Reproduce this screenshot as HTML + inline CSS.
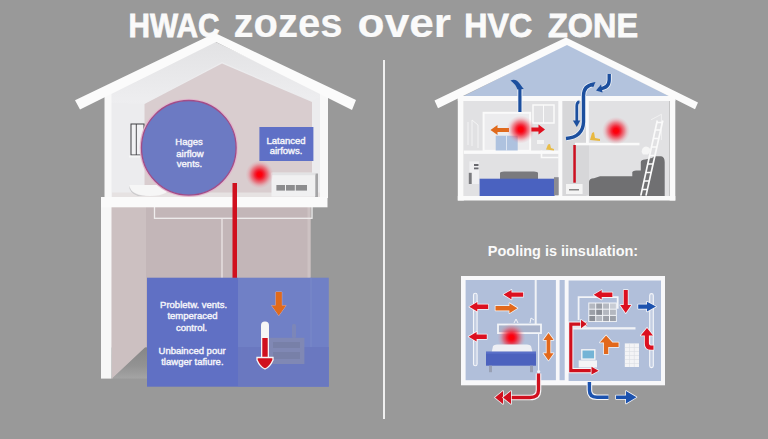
<!DOCTYPE html>
<html><head><meta charset="utf-8">
<style>
html,body{margin:0;padding:0;background:#999999;}
body{width:768px;height:439px;overflow:hidden;position:relative;font-family:"Liberation Sans",sans-serif;}
svg{position:absolute;left:0;top:0;}
.ar{stroke:#f6f6f8;stroke-width:1.5;paint-order:stroke;stroke-linejoin:round;}
</style></head>
<body>
<svg width="768" height="439" viewBox="0 0 768 439" font-family="Liberation Sans, sans-serif">
<defs>
  <radialGradient id="glow">
    <stop offset="0" stop-color="#ff0000"/>
    <stop offset="0.18" stop-color="#fd0010"/>
    <stop offset="0.35" stop-color="#f41426" stop-opacity="0.88"/>
    <stop offset="0.6" stop-color="#f03444" stop-opacity="0.55"/>
    <stop offset="0.82" stop-color="#f06070" stop-opacity="0.2"/>
    <stop offset="1" stop-color="#f08090" stop-opacity="0"/>
  </radialGradient>
  <linearGradient id="floorG" x1="0" y1="0" x2="0" y2="1">
    <stop offset="0" stop-color="#868686"/>
    <stop offset="0.6" stop-color="#939393"/>
    <stop offset="1" stop-color="#a4a4a4"/>
  </linearGradient>
  <linearGradient id="ceilL" x1="0" y1="0" x2="0" y2="1">
    <stop offset="0" stop-color="#e2e2e4"/>
    <stop offset="1" stop-color="#eeeef0"/>
  </linearGradient>
</defs>
<rect width="768" height="439" fill="#999999"/>

<!-- ============ LEFT HOUSE ============ -->
<!-- lower section -->
<polygon points="111,207 310.5,207 310.5,347.5 111,347.5" fill="#c3b6b8"/>
<polygon points="111,207 146,207 146,347 112,379" fill="#ccc0c1"/>
<polygon points="307.5,207 310.5,207 310.5,347 307.5,347" fill="#cdc2c3"/>
<polygon points="145,347.5 148,347.5 148,378.5 112,378.5" fill="url(#floorG)"/>
<rect x="101" y="207" width="10.5" height="171.6" fill="#f7f7f7"/>
<!-- ceiling fixture -->
<rect x="154.5" y="206" width="157.5" height="12.3" fill="none" stroke="#f0eeee" stroke-width="1.3"/>
<line x1="222" y1="218" x2="222" y2="278" stroke="#eeeaea" stroke-width="1.2"/>

<!-- upper section interior -->
<polygon points="111,92 215,42 320,92 320,197 111,197" fill="#ececee"/>
<polygon points="144.5,193 144.5,104 222,63.5 312,102 312,193" fill="#d9cdcf"/>
<polygon points="111,92 215,42 320,92 320,97 312,101 222,62 144.5,103.5 111,103" fill="url(#ceilL)"/>
<rect x="112" y="192.5" width="208" height="5" fill="#e6e2e2"/>
<!-- walls -->
<rect x="104.5" y="90" width="7" height="108" fill="#f8f8f8"/>
<rect x="320" y="92" width="8" height="106" fill="#f8f8f8"/>
<!-- floor slab -->
<rect x="101" y="197" width="226.5" height="10.3" fill="#fafafa"/>
<!-- roof band -->
<polygon points="75,100.3 215,33 356,100 352,110 216,42 80,109.5" fill="#fbfbfb"/>

<!-- window -->
<rect x="131" y="124" width="13" height="31" fill="#f2f2f4" stroke="#3e3e42" stroke-width="1"/>
<line x1="136.3" y1="124" x2="136.3" y2="155" stroke="#3e3e42" stroke-width="0.9"/>
<rect x="129" y="155.5" width="16" height="2" fill="#f6f6f6"/>
<!-- sink bowl -->
<path d="M129,185 L172,185 Q170,195.5 150,196 Q131,195.5 129,185 Z" fill="#f6f6f6"/>
<path d="M129,185 Q131,195.5 146,196 L138,196 Q129,193 129,185 Z" fill="#c9c9cb"/>

<!-- circle -->
<circle cx="188.8" cy="147.8" r="48.3" fill="none" stroke="#e2b6cc" stroke-width="1.6"/>
<circle cx="188.8" cy="147.8" r="47.3" fill="#6c7ac3" stroke="#a24c88" stroke-width="1.3"/>
<g fill="#f4f4fa" stroke="#f4f4fa" stroke-width="0.4" font-size="9.5" text-anchor="middle">
<text x="189" y="145">Hages</text>
<text x="190" y="156.9">airflow</text>
<text x="189.5" y="167.3">vents.</text>
</g>

<!-- latanced box -->
<rect x="259.4" y="127" width="54" height="34" fill="#5f70c6"/>
<g fill="#f4f4fa" stroke="#f4f4fa" stroke-width="0.4" font-size="9.5" text-anchor="middle">
<text x="286" y="143.7">Latanced</text>
<text x="286" y="154.4">airfows.</text>
</g>

<!-- AC unit -->
<rect x="315" y="173.5" width="3" height="23.5" fill="#a4a4a6"/>
<rect x="271.5" y="172.7" width="43.8" height="23.8" fill="#f0f0f1"/>
<rect x="271.5" y="172.7" width="43.8" height="2.5" fill="#e2e2e4"/>
<rect x="276.4" y="185" width="8.6" height="5.6" fill="#8c8c8e"/>
<rect x="286" y="185" width="8.8" height="5.6" fill="#8c8c8e"/>
<rect x="295.8" y="185" width="11.2" height="5.6" fill="#8c8c8e"/>

<!-- red glow -->
<circle cx="259.5" cy="174.5" r="14" fill="url(#glow)"/>

<!-- red pipe -->
<rect x="232.5" y="183" width="4.5" height="95" fill="#d0101e"/>

<!-- big blue box -->
<rect x="147" y="277.7" width="91" height="109" fill="#6070c4"/>
<rect x="238" y="277.7" width="90.8" height="109" fill="#7080c6"/>
<rect x="238" y="347" width="90.8" height="39.7" fill="#6a78c0"/>
<line x1="311" y1="277.7" x2="311" y2="347" stroke="#7888c8" stroke-width="1.2"/>
<rect x="269" y="337.8" width="35.4" height="26.2" fill="#8088b4"/>
<rect x="273" y="342" width="27" height="6" fill="#7880a8"/>
<rect x="273" y="352" width="27" height="7" fill="#7880a8"/>
<rect x="292" y="324" width="4" height="14" rx="1.5" fill="#7c86b8"/>
<g fill="#f4f4fa" stroke="#f4f4fa" stroke-width="0.4" font-size="9.5" text-anchor="middle">
<text x="193.6" y="308.3">Probletw. vents.</text>
<text x="192.5" y="318.9">temperaced</text>
<text x="191.6" y="331.3">control.</text>
<text x="192.1" y="353.9">Unbainced pour</text>
<text x="192.4" y="365">tlawger tafiure.</text>
</g>
<!-- thermometer -->
<rect x="261" y="321.5" width="8" height="40" rx="4" fill="#f6f6f6"/>
<rect x="262.3" y="338" width="5.4" height="22" fill="#d0101e"/>
<path d="M257,357.5 L273,357.5 L273,360 Q270,367 265,369 Q260,367 257,360 Z" fill="#d0101e" stroke="#f6f6f6" stroke-width="1.3"/>
<!-- orange arrow -->
<path class="ar" d="M275.8,292 L281.8,292 L281.8,305.5 L286,305.5 L278.8,315.6 L271.6,305.5 L275.8,305.5 Z" fill="#e06a1c" style="stroke:#c8a8b8;stroke-width:1"/>

<!-- divider -->
<rect x="383" y="60" width="2" height="359" fill="#f0f0f0"/>

<!-- ============ RIGHT TOP HOUSE ============ -->
<polygon points="463.8,96 567,44 669,96" fill="#b3c3dd"/>
<rect x="463.8" y="101" width="205.5" height="95" fill="#e1e1e3"/>
<rect x="457.8" y="96" width="6" height="104.5" fill="#fafafa"/>
<rect x="669.7" y="96" width="5.6" height="104.5" fill="#fafafa"/>
<rect x="457.8" y="96" width="217.5" height="5" fill="#fafafa"/>
<rect x="457.8" y="196" width="217.5" height="4.5" fill="#fafafa"/>
<rect x="558.3" y="96" width="4.2" height="104" fill="#fafafa"/>
<polygon points="434.5,100.5 566,37.4 698,102.5 695,109.2 567,45 438,108.2" fill="#fbfbfb"/>

<!-- left upper room -->
<rect x="463.8" y="150.5" width="95" height="3.4" fill="#fafafa"/>
<path d="M541.5,150.5 L541.5,157.5 L558.7,157.5" fill="none" stroke="#fafafa" stroke-width="1.6"/>
<rect x="483.6" y="112.8" width="46.5" height="38" fill="#ececee" stroke="#fafafa" stroke-width="2"/>
<rect x="495.7" y="135.7" width="22" height="14.8" fill="#aec2df"/>
<line x1="506.5" y1="135.7" x2="506.5" y2="150.5" stroke="#e8eef6" stroke-width="0.8"/>
<rect x="533" y="105" width="21" height="18" fill="none" stroke="#fafafa" stroke-width="1.5"/>
<line x1="543.5" y1="105" x2="543.5" y2="123" stroke="#fafafa" stroke-width="1"/>
<path d="M472,146 L472,120 L478,125 L478,148 M468,145 L468,122" fill="none" stroke="#f6f6f6" stroke-width="0.9"/>
<rect x="537" y="140" width="7" height="4" fill="#f4f4f4"/>
<path d="M546,149.5 L548,144.5 L550,144 L551,148 L554,149 L554,150.5 Z" fill="#e8bc48"/>
<!-- lower-left room items -->
<rect x="469.4" y="161.4" width="9.6" height="22.6" fill="#f0f0f2"/>
<rect x="474" y="164" width="4.5" height="2" fill="#6a6a70"/>
<rect x="474" y="167.5" width="4.5" height="1.8" fill="#6a6a70"/>
<rect x="468.8" y="172.8" width="2.9" height="11.2" fill="#7a7a7e"/>
<!-- bed -->
<path d="M500,179 L500,173 Q500,171.4 504,171.4 L534,171.4 Q538,171.4 538,173 L538,179 Z" fill="#7a7a7e"/>
<rect x="479.6" y="178.7" width="75" height="17.3" fill="#4a62c0"/>
<rect x="554" y="177.2" width="4.7" height="18" fill="#8c8c92"/>
<!-- arrows -->
<path d="M490.5,130 L497.5,125 L497.5,128 L509,128 L509,132 L497.5,132 L497.5,135 Z" fill="#e06a1c"/>
<circle cx="520.7" cy="129.5" r="14" fill="url(#glow)"/>
<path d="M545,129.5 L538.5,124.5 L538.5,127.5 L531.4,127.5 L531.4,131.5 L538.5,131.5 L538.5,134.5 Z" fill="#e0101e"/>
<!-- left blue arrow -->
<path d="M519.9,112 L519.9,89" fill="none" stroke="#eef2f8" stroke-width="5"/>
<path d="M519.9,112 L519.9,89" fill="none" stroke="#1c4f9e" stroke-width="3.2"/>
<path d="M510.5,80.5 Q516,78 520,84 Q522,87 523.8,89 L517.5,89.5 Q515.5,84 510.5,80.5 Z" fill="#1c4f9e"/>

<!-- right room -->
<rect x="562.5" y="101" width="24" height="95" fill="#d7d7d9"/>
<rect x="586" y="145" width="3" height="50" fill="#d7d7d9"/>
<rect x="575" y="142.8" width="64.5" height="2.5" fill="#fafafa"/>
<rect x="586" y="101" width="2.8" height="42" fill="#fafafa"/>
<path d="M590,140 L592,133 L594,132 L595,138 L600,139 L600,141 Z" fill="#e8b840"/>
<circle cx="616" cy="130.8" r="14" fill="url(#glow)"/>
<rect x="573.3" y="145" width="2.5" height="37.7" fill="#cc1020"/>
<rect x="566" y="184" width="16.6" height="10" fill="#f4f4f4"/>
<rect x="569" y="189" width="10" height="1.5" fill="#888"/>
<path d="M589,196 L589,182 Q589,178.5 594,178.3 L600,176.2 L632.3,176.2 L632.3,172 Q633,170.5 636,170.5 L640.8,170.5 L640.8,162 Q641,159.5 645,159.5 L652,158 Q653,156.3 656,156.3 L661,156.3 Q664.7,157 664.7,162 L664.7,196 Z" fill="#707072"/>
<path d="M651,119.8 L661.4,114.3 L661.4,140" fill="none" stroke="#f4f4f4" stroke-width="0.8"/>
<path d="M640.8,195.6 L657.3,120.5 M646,195.6 L662.8,120.5" fill="none" stroke="#fafafa" stroke-width="1.7"/>
<path d="M642.1,189.5 L647.4,189.5 M644.0,181 L649.3,181 M645.9,172.5 L651.2,172.5 M647.7,164 L653.1,164 M649.6,155.5 L655.0,155.5 M651.5,147 L656.9,147 M653.3,138.5 L658.8,138.5 M655.2,130 L660.7,130 M656.9,122.5 L662.4,122.5" fill="none" stroke="#fafafa" stroke-width="1.3"/>
<path d="M641.6,152 Q642,146.5 646,146.4 Q650.5,147 650.5,151 L648,154.6 L643,154.6 Z" fill="#f6f6f6"/>
<!-- S arrows -->
<g fill="none" stroke-linecap="butt">
<path d="M609.2,74 L609.2,80 Q609.2,88 599,89" stroke="#eef2f8" stroke-width="5"/>
<path d="M594,84.5 Q583.5,85 583.5,96 L583.5,122 Q583,137 566,138.5" stroke="#eef2f8" stroke-width="5"/>
<path d="M579.5,101.8 Q576.8,101.8 576.8,106 L576.8,121" stroke="#eef2f8" stroke-width="4.5"/>
<path d="M609.2,74 L609.2,80 Q609.2,88 599,89" stroke="#1c4f9e" stroke-width="3.4"/>
<path d="M594,84.5 Q583.5,85 583.5,96 L583.5,122 Q583,137 566,138.5" stroke="#1c4f9e" stroke-width="3.4"/>
<path d="M579.5,101.8 Q576.8,101.8 576.8,106 L576.8,121" stroke="#1c4f9e" stroke-width="2.8"/>
</g>
<path d="M596,90.5 L601,84.5 L602.5,92.5 Z" fill="#1c4f9e"/>
<path d="M595.5,82 L590,83 L593,87.5 Z" fill="#1c4f9e"/>
<path d="M572.9,120.5 L580.3,120.5 L576.8,127 Z" fill="#1c4f9e"/>

<!-- ============ FLOOR PLAN ============ -->
<text x="487.8" y="256" font-size="15" font-weight="bold" fill="#fafafa" textLength="150.4" lengthAdjust="spacingAndGlyphs">Pooling is iinsulation:</text>
<rect x="461" y="276" width="204" height="109.3" fill="#f8f8fa"/>
<rect x="465.6" y="280" width="90.3" height="100.2" fill="#b1bfda"/>
<rect x="559.6" y="280" width="5.1" height="100.2" fill="#b1bfda"/>
<rect x="568.6" y="280.5" width="92.4" height="100.5" fill="#b1bfda"/>
<rect x="534.7" y="280" width="2" height="45" fill="#f0f2f6"/>
<rect x="571.5" y="327.2" width="64" height="2.3" fill="#f0f2f6"/>

<!-- left plan items -->
<rect x="473.5" y="293.2" width="3.6" height="72.5" rx="1.8" fill="#c4cee2" stroke="#f4f6fa" stroke-width="1.1"/>
<path class="ar" d="M469.3,306.8 L477.3,302.1 L477.3,304.6 L488.2,304.6 L488.2,309.0 L477.3,309.0 L477.3,311.6 Z" fill="#dc1020"/>
<path class="ar" d="M468.6,336.7 L476.6,331.9 L476.6,334.5 L486.8,334.5 L486.8,338.9 L476.6,338.9 L476.6,341.4 Z" fill="#dc1020"/>
<path class="ar" d="M503.5,294.6 L511.5,289.9 L511.5,292.4 L523.2,292.4 L523.2,296.8 L511.5,296.8 L511.5,299.4 Z" fill="#dc1020"/>
<path class="ar" d="M517.4,308.2 L509.4,303.2 L509.4,306.0 L495.5,306.0 L495.5,310.4 L509.4,310.4 L509.4,313.2 Z" fill="#e2681c"/>
<rect x="498" y="324.5" width="43" height="8.6" fill="#aab4cc" stroke="#f2f4f8" stroke-width="1.8"/>
<path d="M514,323 L516,319 L518,323 M530,323 L531,318 L534,320" fill="none" stroke="#f2f4f8" stroke-width="1"/>
<line x1="538.6" y1="333" x2="538.6" y2="371" stroke="#f2f4f8" stroke-width="1.2"/>
<circle cx="538.6" cy="371.5" r="1.6" fill="#f2f4f8"/>
<circle cx="511.5" cy="337.5" r="14" fill="url(#glow)"/>
<path d="M491.7,352 L493,346 Q494,344.5 497,344.5 L527,344.5 Q530,344.5 531,346 L532.5,352 Z" fill="#eeeff4"/>
<rect x="486" y="351.7" width="50" height="14" fill="#4c62be"/>
<rect x="486" y="351.7" width="50" height="2" fill="#5a70c8"/>
<rect x="489" y="365.7" width="3" height="6.5" fill="#98a0b4"/>
<rect x="530" y="365.7" width="3" height="6.5" fill="#98a0b4"/>
<path class="ar" d="M548.5,332.9 L553.6,340 L550.4,340 L550.4,353.3 L553.6,353.3 L548.5,360.4 L543.4,353.3 L546.6,353.3 L546.6,340 L543.4,340 Z" fill="#e2681c"/>
<path d="M538.5,373.6 L538.5,390 Q538.5,397.5 530,397.5 L505,397.5" fill="none" stroke="#f6f6f8" stroke-width="5.6"/>
<path d="M538.5,373.6 L538.5,390 Q538.5,397.5 530,397.5 L505,397.5" fill="none" stroke="#d0101e" stroke-width="3.3"/>
<path class="ar" d="M495,397.5 L503,391 L503,404 Z" fill="#d0101e"/>
<path class="ar" d="M503,397.5 L511,391 L511,404 Z" fill="#d0101e"/>

<!-- right plan items -->
<path d="M578.6,320 L578.6,297.1 L617.7,297.1 L617.7,308.7" fill="none" stroke="#f2f4f8" stroke-width="1.8"/>
<rect x="588.3" y="302.5" width="28.5" height="19.5" fill="#f2f4f8"/>
<g fill="#b4b8c0">
<rect x="589.3" y="303.5" width="5.9" height="5.2"/><rect x="596.2" y="303.5" width="5.9" height="5.2" fill="#9ca0a8"/><rect x="603.1" y="303.5" width="5.9" height="5.2"/><rect x="610" y="303.5" width="5.9" height="5.2" fill="#c8ccd4"/>
<rect x="589.3" y="309.7" width="5.9" height="5.2" fill="#9ca0a8"/><rect x="596.2" y="309.7" width="5.9" height="5.2" fill="#8a8e96"/><rect x="603.1" y="309.7" width="5.9" height="5.2"/><rect x="610" y="309.7" width="5.9" height="5.2"/>
<rect x="589.3" y="315.9" width="5.9" height="5.2" fill="#8a8e96"/><rect x="596.2" y="315.9" width="5.9" height="5.2"/><rect x="603.1" y="315.9" width="5.9" height="5.2" fill="#9ca0a8"/><rect x="610" y="315.9" width="5.9" height="5.2" fill="#9ca0a8"/>
</g>
<path class="ar" d="M593.7,294.8 L601.7,290.1 L601.7,292.6 L612.4,292.6 L612.4,297.0 L601.7,297.0 L601.7,299.6 Z" fill="#dc1020"/>
<path class="ar" d="M625.7,313.1 L620.2,305.1 L623.7,305.1 L623.7,290.0 L627.8,290.0 L627.8,305.1 L631.2,305.1 Z" fill="#dc1020"/>
<rect x="649.7" y="293.6" width="3.6" height="74" rx="1.8" fill="#c4cee2" stroke="#f4f6fa" stroke-width="1.1"/>
<path class="ar" d="M656.0,306.6 L647.0,301.7 L647.0,304.6 L638.2,304.6 L638.2,308.7 L647.0,308.7 L647.0,311.5 Z" fill="#1c52ae"/>
<path class="ar" d="M647,327.9 L653,335.4 L648.9,335.4 L648.9,343 Q648.9,345.6 652,345.6 L653.5,345.6 L653.5,349.8 L651,349.8 Q644.8,349.8 644.8,343.5 L644.8,335.4 L640.8,335.4 Z" fill="#dc1020"/>
<path class="ar" d="M606.1,335.4 L612.4,342.6 L618.6,342.6 L618.6,347 L608.3,347 L608.3,354 L603.9,354 L603.9,342.6 L599.9,342.6 Z" fill="#e2681c"/>
<rect x="624.8" y="343.4" width="14.2" height="23.6" fill="#f4f4f6"/>
<path d="M624.8,347.5 H639 M624.8,351.5 H639 M624.8,355.5 H639 M624.8,359.5 H639 M624.8,363.5 H639 M629.5,343.4 V367 M634.3,343.4 V367" stroke="#dadde4" stroke-width="0.6"/>
<rect x="581.8" y="349.8" width="13" height="9.3" fill="#74b4d6" stroke="#f4f4f6" stroke-width="1.4"/>
<rect x="578.7" y="360.4" width="18.3" height="7.1" fill="#f4f4f6"/>
<path d="M586.7,324.1 L570.8,324.1 L570.8,370.7 L592,370.7" fill="none" stroke="#f6f6f8" stroke-width="5.2"/>
<path d="M586.7,324.1 L570.8,324.1 L570.8,370.7 L592,370.7" fill="none" stroke="#d0101e" stroke-width="3.2"/>
<path class="ar" d="M598.6,370.7 L591.5,366.8 L591.5,374.6 Z" fill="#d0101e"/>
<path class="ar" d="M586.7,324.1 L581,319.8 L581,328.2 Z" fill="#d0101e"/>
<path d="M589.4,381.9 L589.4,390 Q589.4,397.2 597,397.2 L608.5,397.2" fill="none" stroke="#f6f6f8" stroke-width="5.6"/>
<path d="M589.4,381.9 L589.4,390 Q589.4,397.2 597,397.2 L608.5,397.2" fill="none" stroke="#1c52ae" stroke-width="3.4"/>
<path class="ar" d="M616,395.5 L626,395.5 L626,391 L636.5,397.2 L626,403.5 L626,399 L616,399 Z" fill="#1c52ae"/>

<!-- ============ TITLE ============ -->
<g fill="#fafafa" font-weight="bold">
<g stroke="#fafafa" stroke-width="0.8">
<text x="128.5" y="36.8" font-size="33.4" textLength="91" lengthAdjust="spacingAndGlyphs">HWAC</text>
<text x="464.3" y="36.5" font-size="33" textLength="68" lengthAdjust="spacingAndGlyphs">HVC</text>
<text x="548" y="36.5" font-size="33" textLength="90" lengthAdjust="spacingAndGlyphs">ZONE</text>
</g>
<text x="233.5" y="37" font-size="41" textLength="109" lengthAdjust="spacingAndGlyphs" stroke="#fafafa" stroke-width="0.2">zozes</text>
<text x="357.6" y="37" font-size="41" textLength="93.5" lengthAdjust="spacingAndGlyphs" stroke="#fafafa" stroke-width="0.2">over</text>
</g>
</svg>
</body></html>
